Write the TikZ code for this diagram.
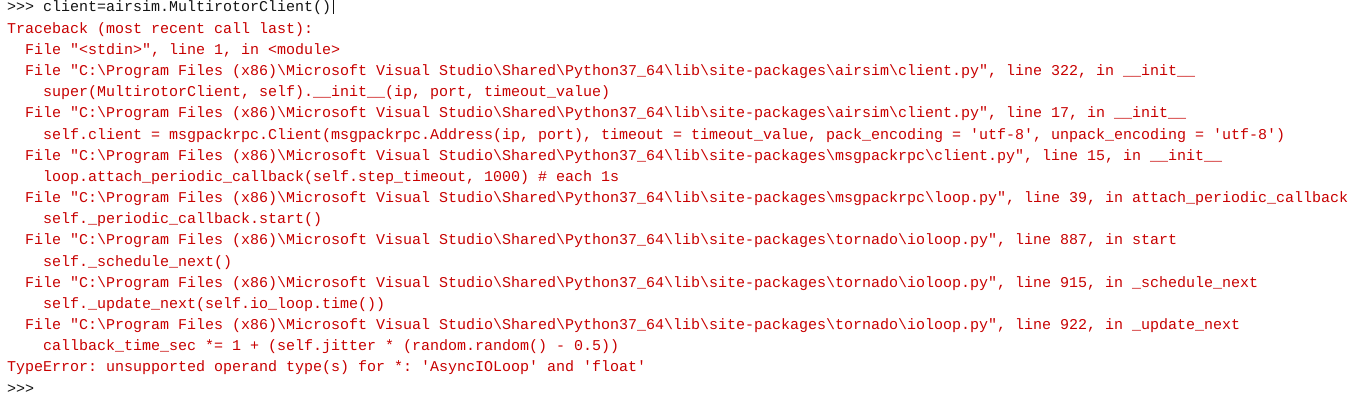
\documentclass[tikz,border=0pt]{standalone}
\usepackage{fontspec}
\setmonofont{Liberation Mono}
\definecolor{err}{RGB}{200,0,0}
\definecolor{ink}{RGB}{20,20,20}
\newcommand{\bs}{\textbackslash}
\newcommand{\pf}{"C:\bs Program Files (x86)\bs Microsoft Visual Studio\bs Shared\bs Python37\_64\bs lib\bs site-packages\bs }
\begin{document}
\begin{tikzpicture}[x=1pt,y=-1pt,
  ln/.style={anchor=base west,inner sep=0pt,font=\ttfamily\fontsize{15}{15}\selectfont,text=err}]
\useasboundingbox[fill=white] (0,0) rectangle (1368,401);
\def\L#1{(12+21.17*#1)}
\node[ln,text=ink] (l0) at (7,{12+21.17*0}) {>>> client=airsim.MultirotorClient()};
\node[ln] (l1) at (7,{12+21.17*1}) {Traceback (most recent call last):};
\node[ln] (l2) at (25,{12+21.17*2}) {File "<stdin>", line 1, in <module>};
\node[ln] (l3) at (25,{12+21.17*3}) {File \pf airsim\bs client.py", line 322, in \_\_init\_\_};
\node[ln] (l4) at (43,{12+21.17*4}) {super(MultirotorClient, self).\_\_init\_\_(ip, port, timeout\_value)};
\node[ln] (l5) at (25,{12+21.17*5}) {File \pf airsim\bs client.py", line 17, in \_\_init\_\_};
\node[ln] (l6) at (43,{12+21.17*6}) {self.client = msgpackrpc.Client(msgpackrpc.Address(ip, port), timeout = timeout\_value, pack\_encoding = 'utf-8', unpack\_encoding = 'utf-8')};
\node[ln] (l7) at (25,{12+21.17*7}) {File \pf msgpackrpc\bs client.py", line 15, in \_\_init\_\_};
\node[ln] (l8) at (43,{12+21.17*8}) {loop.attach\_periodic\_callback(self.step\_timeout, 1000) \# each 1s};
\node[ln] (l9) at (25,{12+21.17*9}) {File \pf msgpackrpc\bs loop.py", line 39, in attach\_periodic\_callback};
\node[ln] (l10) at (43,{12+21.17*10}) {self.\_periodic\_callback.start()};
\node[ln] (l11) at (25,{12+21.17*11}) {File \pf tornado\bs ioloop.py", line 887, in start};
\node[ln] (l12) at (43,{12+21.17*12}) {self.\_schedule\_next()};
\node[ln] (l13) at (25,{12+21.17*13}) {File \pf tornado\bs ioloop.py", line 915, in \_schedule\_next};
\node[ln] (l14) at (43,{12+21.17*14}) {self.\_update\_next(self.io\_loop.time())};
\node[ln] (l15) at (25,{12+21.17*15}) {File \pf tornado\bs ioloop.py", line 922, in \_update\_next};
\node[ln] (l16) at (43,{12+21.17*16}) {callback\_time\_sec *= 1 + (self.jitter * (random.random() - 0.5))};
\node[ln] (l17) at (7,{12+21.17*17}) {TypeError: unsupported operand type(s) for *: 'AsyncIOLoop' and 'float'};
\node[ln,text=ink] (l18) at (7,{12+21.17*18}) {>>>};
\draw[ink,line width=0.8] (333,0) -- (333,14);
\end{tikzpicture}
\end{document}
